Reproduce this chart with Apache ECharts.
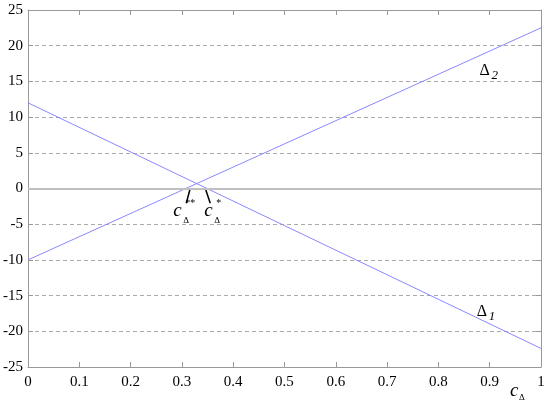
<!DOCTYPE html>
<html>
<head>
<meta charset="utf-8">
<script src="https://cdn.jsdelivr.net/npm/echarts@6/dist/echarts.min.js"></script>
<style>
  html, body { margin: 0; padding: 0; background: #fff; }
  #chart { width: 550px; height: 404px; }
</style>
</head>
<body>
<div id="chart"></div>
<script>
// 数据
const xTicks = [0, 0.1, 0.2, 0.3, 0.4, 0.5, 0.6, 0.7, 0.8, 0.9, 1]
const delta1 = [[0, 12], [1, -22.4]]
const delta2 = [[0, -10], [1, 22.5]]
// 注释位置（数据坐标）
const labelDelta1 = [0.875, -17.2]
const labelDelta2 = [0.88, 16.5]
const cross = [0.328, 0.6]

const FONT = '"Liberation Serif", "DejaVu Serif", "Times New Roman", serif'
const LINE_COLOR = '#8888ff'

const chart = echarts.init(document.getElementById('chart'))

const axisCommon = {
  axisLine: {show: true, onZero: false, lineStyle: {color: '#999', width: 1}},
  axisTick: {show: true, inside: true, length: 5, lineStyle: {color: '#999'}},
  axisLabel: {color: '#000', fontFamily: FONT, fontSize: 15}
}

chart.setOption({
  animation: false,
  textStyle: {fontFamily: FONT},
  grid: {left: 26, right: 9, top: 10, bottom: 37},
  xAxis: [
    {
      ...axisCommon,
      type: 'value', min: 0, max: 1, interval: 0.1,
      axisLabel: {...axisCommon.axisLabel, margin: 8, formatter: v => String(+v.toFixed(1))},
      splitLine: {show: false}
    },
    {
      ...axisCommon,
      type: 'value', min: 0, max: 1, interval: 0.1, position: 'top',
      axisLabel: {show: false}, splitLine: {show: false}
    }
  ],
  yAxis: [
    {
      ...axisCommon,
      type: 'value', min: -25, max: 25, interval: 5,
      axisLabel: {...axisCommon.axisLabel, margin: 5},
      splitLine: {show: true, lineStyle: {color: '#aaa', type: [4, 3], width: 1}}
    },
    {
      ...axisCommon,
      type: 'value', min: -25, max: 25, interval: 5, position: 'right',
      axisLabel: {show: false}, splitLine: {show: false}
    }
  ],
  series: [
    {
      name: 'Δ1', type: 'line', data: delta1, symbol: 'none',
      lineStyle: {color: LINE_COLOR, width: 1},
      markLine: {
        silent: true, symbol: 'none', label: {show: false},
        lineStyle: {color: '#c0c0c0', type: 'solid', width: 2},
        data: [{yAxis: 0}]
      },
      z: 3
    },
    {
      name: 'Δ2', type: 'line', data: delta2, symbol: 'none',
      lineStyle: {color: LINE_COLOR, width: 1},
      z: 3
    }
  ]
})

// 注释：Δ1、Δ2、c_Δ**、c_Δ*
const px = p => chart.convertToPixel({gridIndex: 0}, p)
const txt = (x, y, text, size, italic, align) => ({
  type: 'text', x, y,
  style: {
    text, fill: '#000', fontFamily: FONT, fontSize: size,
    fontStyle: italic ? 'italic' : 'normal',
    align: align || 'left', verticalAlign: 'middle'
  }
})

const d1 = px(labelDelta1)
const d2 = px(labelDelta2)
const c = px(cross)
const axisEnd = px([1, -25])

chart.setOption({
  graphic: [
    txt(d2[0], d2[1], 'Δ', 16, false),
    txt(d2[0] + 12, d2[1] + 5, '2', 13, true),
    txt(d1[0], d1[1], 'Δ', 16, false),
    txt(d1[0] + 12, d1[1] + 5, '1', 13, true),
    // 引线
    {type: 'line', shape: {x1: c[0] - 6, y1: c[1] + 4, x2: c[0] - 10, y2: c[1] + 19}, style: {stroke: '#000', lineWidth: 1.5}},
    {type: 'line', shape: {x1: c[0] + 9, y1: c[1] + 4, x2: c[0] + 14, y2: c[1] + 19}, style: {stroke: '#000', lineWidth: 1.5}},
    // c_Δ**
    txt(c[0] - 23, c[1] + 27, 'c', 19, true),
    txt(c[0] - 13, c[1] + 36, 'Δ', 9, false),
    txt(c[0] - 11, c[1] + 19, '**', 10, false),
    // c_Δ*
    txt(c[0] + 8, c[1] + 27, 'c', 19, true),
    txt(c[0] + 18, c[1] + 36, 'Δ', 9, false),
    txt(c[0] + 20, c[1] + 19, '*', 10, false),
    // 横轴标题 c_Δ
    txt(axisEnd[0] - 31, axisEnd[1] + 24, 'c', 19, true),
    txt(axisEnd[0] - 22, axisEnd[1] + 31, 'Δ', 9, false)
  ]
})
</script>
</body>
</html>
